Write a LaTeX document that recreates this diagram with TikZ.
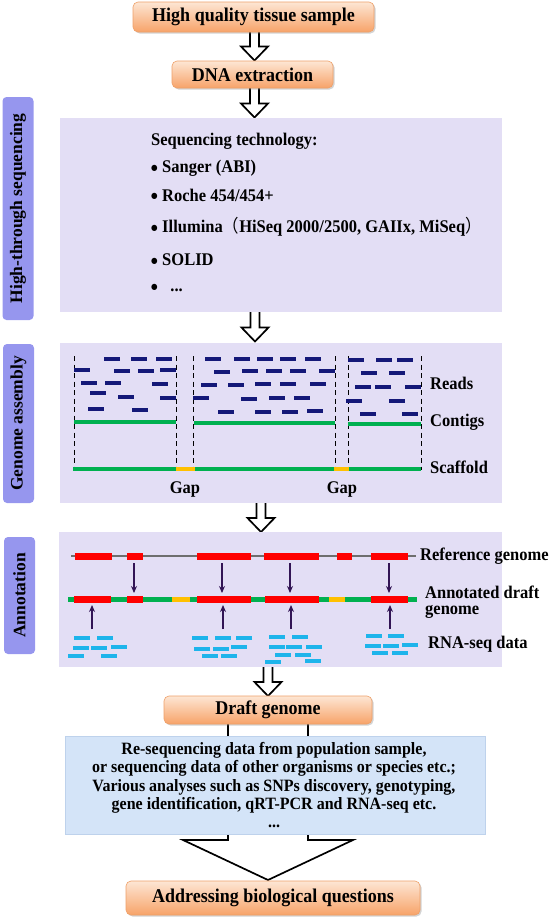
\documentclass[tikz,border=0pt]{standalone}
\usepackage{fontspec}
\usepackage{graphicx}
\setmainfont{Liberation Serif}
\newfontfamily\cjk{Noto Sans CJK SC}
\newfontfamily\dejavu{DejaVu Sans}
\usetikzlibrary{shadows,calc,arrows.meta}
\newcommand{\vstretch}[1]{\scalebox{1}[1.08]{#1}}
\newcommand{\bul}{{\dejavu\mdseries\fontsize{7.5}{8}\selectfont\raisebox{2pt}{●}}\hspace{4.5pt}}
\definecolor{lav}{RGB}{227,222,245}
\definecolor{side}{RGB}{150,150,238}
\definecolor{otop}{RGB}{253,230,212}
\definecolor{obot}{RGB}{247,163,105}
\definecolor{oline}{RGB}{238,160,105}
\definecolor{lblue}{RGB}{212,228,248}
\definecolor{lblueline}{RGB}{190,210,236}
\definecolor{navyread}{RGB}{20,24,120}
\definecolor{gline}{RGB}{0,176,80}
\definecolor{gapc}{RGB}{255,192,0}
\definecolor{cyanread}{RGB}{30,180,235}
\definecolor{darr}{RGB}{50,20,85}
\definecolor{greyline}{RGB}{110,110,110}
\tikzset{
  obox/.style={draw=oline, line width=0.6pt, rounded corners=5pt, top color=otop, bottom color=obot,
    drop shadow={shadow xshift=1.5pt, shadow yshift=-1.5pt, opacity=0.35},
    font=\bfseries\fontsize{18}{20}\selectfont, inner sep=0pt},
  panel/.style={fill=lav, draw=none, anchor=north west, inner sep=0pt},
  sidelabel/.style={fill=side, rounded corners=4pt, rotate=90, inner sep=0pt,
    minimum height=31pt, font=\bfseries\fontsize{17.5}{20}\selectfont},
  txt/.style={font=\bfseries\fontsize{16.5}{19}\selectfont, inner sep=0pt, anchor=west},
  read/.style={draw=navyread, line width=4pt},
  rna/.style={draw=cyanread, line width=4pt},
  contig/.style={draw=gline, line width=4pt},
  gapseg/.style={draw=gapc, line width=4pt},
  vdash/.style={draw=black, dashed, dash pattern=on 5pt off 3.5pt, line width=0.8pt},
  exon/.style={fill=red, draw=none},
  darrow/.style={draw=darr, line width=2.2pt, -{Stealth[length=7pt,width=6pt]}},
  harrow/.pic={\draw[line width=1.7pt, fill=white, line join=miter]
     (-4.5,0) -- (-4.5,15.5) -- (-13.5,15.5) -- (0,29.5) -- (13.5,15.5) -- (4.5,15.5) -- (4.5,0);}
}
\begin{document}
\begin{tikzpicture}[x=1pt,y=-1pt]
\useasboundingbox (0,0) rectangle (557,918);

% ---- hollow arrows (drawn first, boxes on top)
\pic at (254.5,31) {harrow};
\pic at (254.5,88) {harrow};
\pic at (255,312) {harrow};
\pic at (261,502.5) {harrow};
\pic at (268,666.5) {harrow};

% ---- top boxes
\node[obox, minimum width=241pt, minimum height=30pt] (tissue) at (253.5,17) {\vstretch{High quality tissue sample}};
\node[obox, minimum width=161pt, minimum height=27pt] (dna) at (252.5,74.5) {\vstretch{DNA extraction}};

% ---- panel 1: sequencing
\node[panel, minimum width=442pt, minimum height=194pt] (seqpanel) at (60,118) {};
\node[sidelabel, minimum width=223pt] (seqlab) at (18,208.5) {High-through sequencing};
\node[txt] (seqtitle) at (151,141) {\vstretch{Sequencing technology:}};
\node[txt] (s1) at (151,168) {\vstretch{\bul Sanger (ABI)}};
\node[txt] (s2) at (151,195) {\vstretch{\bul Roche 454/454+}};
\node[txt] (s3) at (151,227) {\vstretch{\bul Illumina{\cjk\mdseries （}HiSeq 2000/2500, GAIIx, MiSeq{\cjk\mdseries ）}}};
\node[txt] (s4) at (151,260) {\vstretch{\bul SOLID}};
\node[txt] (s5) at (151,288) {\vstretch{\bul\ \ ...}};

% ---- panel 2: genome assembly
\node[panel, minimum width=442pt, minimum height=160pt] (asmpanel) at (60,343) {};
\node[sidelabel, minimum width=159pt] (asmlab) at (18.5,423.5) {Genome assembly};
\foreach \x in {74,176,193,335,348,421} \draw[vdash] (\x,356) -- (\x,470);
\foreach \x/\y in {104/359,131/359,156/359,205/359,234/359,257/359,280/359,305/359,348/360,376/360,397/360,
  74/370,114/371,138/371,160/370,214/372,242/371,266/371,290/371,319/371,361/373,389/373,
  81/383,105/383,152/384,201/385,228/385,255/384,280/384,310/384,355/387,375/387,405/387,
  90/393,118/397,160/398,193/398,241/399,269/398,294/398,346/401,389/401,
  88/409,132/410,218/412,255/412,282/412,307/411,360/414,402/414}
  \draw[read] (\x,\y) -- ++(16,0);
\draw[contig] (74,422) -- (176,422);
\draw[contig] (194,423) -- (335,423);
\draw[contig] (348,424) -- (421,424);
\draw[contig] (73,469) -- (176,469);
\draw[gapseg] (176,469) -- (195,469);
\draw[contig] (195,469) -- (334,469);
\draw[gapseg] (334,469) -- (349,469);
\draw[contig] (349,469) -- (421,469);
\node[txt] (reads) at (430,383) {\vstretch{Reads}};
\node[txt] (contigs) at (430,422) {\vstretch{Contigs}};
\node[txt] (scaffold) at (430,467) {\vstretch{Scaffold}};
\node[txt, anchor=center] (gap1) at (185,489) {\vstretch{Gap}};
\node[txt, anchor=center] (gap2) at (342,489) {\vstretch{Gap}};

% ---- panel 3: annotation
\node[panel, minimum width=443pt, minimum height=135pt] (annpanel) at (59,532) {};
\node[sidelabel, minimum width=117pt] (annlab) at (19.5,595.5) {Annotation};
\draw[greyline, line width=1.3pt] (71,556) -- (416,556);
\foreach \a/\b in {75/112,127/143,197/251,264/319,337/352,371/408}
  \fill[exon] (\a,553) rectangle (\b,559.5);
\draw[gline, line width=5pt] (68,599) -- (417,599);
\foreach \a/\b in {172/190,329/345}
  \draw[gapc, line width=5pt] (\a,599) -- (\b,599);
\foreach \a/\b in {74/111,127/143,197/251,265/319,371/408}
  \fill[exon] (\a,595.5) rectangle (\b,602.5);
\foreach \x in {134,222,290,389} \draw[darrow] (\x,563) -- (\x,593);
\foreach \x in {92,223,291,390} \draw[darrow] (\x,629) -- (\x,605);
\foreach \x/\y in {74/638,97/638,73/648,91/648,111/647,68/656,101/656,
  192/638,215/638,236/638,194/649,213/649,231/647,202/656,221/656,
  269/637,292/637,269/647,286/647,306/647,275/655,295/655,265/662,305/661,
  366/636,388/636,365/646,383/646,402/645,372/653,392/653}
  \draw[rna] (\x,\y) -- ++(16,0);
\node[txt] (refg) at (420,556) {\vstretch{Reference genome}};
\node[txt] (annd1) at (425,592) {\vstretch{Annotated draft}};
\node[txt] (annd2) at (425,612) {\vstretch{genome}};
\node[txt] (rnaseq) at (428,644) {\vstretch{RNA-seq data}};

% ---- big arrow to final box
\draw[line width=1.7pt, fill=white, line join=miter]
  (228,724) -- (228,840) -- (183,840) -- (268,880) -- (353,840) -- (308,840) -- (308,724);
\node[fill=lblue, draw=lblueline, line width=0.6pt, anchor=north west, minimum width=420pt, minimum height=98pt, inner sep=0pt] (bluebox) at (65,736) {};
\node[font=\bfseries\fontsize{16}{16.8}\selectfont, inner sep=0pt] (bluetext) at (274,787.5)
  {\vstretch{\begin{tabular}{@{}c@{}}
   Re-sequencing data from population sample,\\
   or sequencing data of other organisms or species etc.;\\
   Various analyses such as SNPs discovery, genotyping,\\
   gene identification, qRT-PCR and RNA-seq etc.\\
   ...\end{tabular}}};
\node[obox, minimum width=208pt, minimum height=28pt] (draft) at (268,710) {\vstretch{Draft genome}};
\node[obox, minimum width=294pt, minimum height=34pt] (address) at (273,898) {\vstretch{Addressing biological questions}};
\end{tikzpicture}
\end{document}
